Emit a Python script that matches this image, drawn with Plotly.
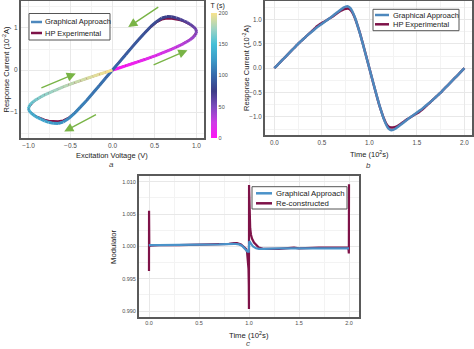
import plotly.graph_objects as go
from plotly.colors import sample_colorscale

W, H = 474, 349
def px(x):
    return x / W
def py(y):
    return 1 - y / H

# ---------------- data ----------------
# time in 10^2 s
time_h = [0.000, 0.025, 0.050, 0.075, 0.100, 0.125, 0.150, 0.175, 0.200, 0.225,
          0.250, 0.275, 0.300, 0.325, 0.350, 0.375, 0.400, 0.425, 0.450, 0.475,
          0.500, 0.525, 0.550, 0.575, 0.600, 0.625, 0.650, 0.675, 0.700, 0.725,
          0.750, 0.775, 0.800, 0.825, 0.850, 0.875, 0.900, 0.925, 0.950, 0.975,
          1.000, 1.025, 1.050, 1.075, 1.100, 1.125, 1.150, 1.175, 1.200, 1.225,
          1.250, 1.275, 1.300, 1.325, 1.350, 1.375, 1.400, 1.425, 1.450, 1.475,
          1.500, 1.525, 1.550, 1.575, 1.600, 1.625, 1.650, 1.675, 1.700, 1.725,
          1.750, 1.775, 1.800, 1.825, 1.850, 1.875, 1.900, 1.925, 1.950, 1.975,
          2.000]

voltage = [0.000, 0.079, 0.156, 0.233, 0.309, 0.383, 0.454, 0.523, 0.588, 0.649,
           0.707, 0.760, 0.809, 0.853, 0.891, 0.924, 0.951, 0.972, 0.988, 0.997,
           1.000, 0.997, 0.988, 0.972, 0.951, 0.924, 0.891, 0.853, 0.809, 0.760,
           0.707, 0.649, 0.588, 0.523, 0.454, 0.383, 0.309, 0.233, 0.156, 0.079,
           0.000, -0.079, -0.156, -0.233, -0.309, -0.383, -0.454, -0.523, -0.588, -0.649,
           -0.707, -0.760, -0.809, -0.853, -0.891, -0.924, -0.951, -0.972, -0.988, -0.997,
           -1.000, -0.997, -0.988, -0.972, -0.951, -0.924, -0.891, -0.853, -0.809, -0.760,
           -0.707, -0.649, -0.588, -0.523, -0.454, -0.383, -0.309, -0.233, -0.156, -0.079,
           0.000]

current_graphical = [0.000, 0.050, 0.100, 0.150, 0.200, 0.250, 0.300, 0.350, 0.400, 0.450,
                     0.500, 0.545, 0.590, 0.635, 0.680, 0.720, 0.760, 0.800, 0.840, 0.875,
                     0.910, 0.945, 0.980, 1.015, 1.050, 1.090, 1.130, 1.165, 1.205, 1.240,
                     1.265, 1.270, 1.235, 1.150, 1.030, 0.880, 0.720, 0.545, 0.365, 0.183,
                     0.000, -0.183, -0.365, -0.545, -0.720, -0.880, -1.030, -1.150, -1.235, -1.270,
                     -1.265, -1.240, -1.205, -1.165, -1.130, -1.090, -1.050, -1.015, -0.980, -0.945,
                     -0.910, -0.875, -0.840, -0.800, -0.760, -0.720, -0.680, -0.635, -0.590, -0.545,
                     -0.500, -0.450, -0.400, -0.350, -0.300, -0.250, -0.200, -0.150, -0.100, -0.050,
                     0.000]

current_hp = [0.000, 0.050, 0.100, 0.150, 0.200, 0.250, 0.300, 0.350, 0.400, 0.450,
              0.500, 0.545, 0.590, 0.635, 0.680, 0.725, 0.770, 0.815, 0.860, 0.895,
              0.925, 0.955, 0.985, 1.015, 1.045, 1.080, 1.115, 1.150, 1.180, 1.205,
              1.220, 1.225, 1.200, 1.130, 1.020, 0.880, 0.725, 0.550, 0.370, 0.185,
              0.000, -0.185, -0.370, -0.550, -0.725, -0.880, -1.020, -1.130, -1.195, -1.215,
              -1.215, -1.205, -1.180, -1.150, -1.115, -1.080, -1.045, -1.015, -0.985, -0.955,
              -0.925, -0.895, -0.860, -0.815, -0.770, -0.725, -0.680, -0.635, -0.590, -0.545,
              -0.500, -0.450, -0.400, -0.350, -0.300, -0.250, -0.200, -0.150, -0.100, -0.050,
              0.000]

# modulator panel
mod_time_graphical = [0.000, 0.010, 0.100, 0.300, 0.500, 0.700, 0.850, 0.900, 0.930, 0.950,
                      0.970, 0.985, 0.997, 1.003, 1.010, 1.020, 1.040, 1.070, 1.100, 1.150,
                      1.300, 1.500, 1.700, 1.900, 1.980, 2.000]
mod_graphical = [1.0001, 1.0002, 1.0002, 1.0002, 1.0003, 1.0003, 1.0004, 1.0003, 1.0001, 0.9998,
                 0.9995, 0.9992, 0.9992, 1.0008, 1.0007, 1.0004, 1.0000, 0.9997, 0.9996, 0.9996,
                 0.9997, 0.9997, 0.9997, 0.9998, 0.9998, 0.9997]

mod_time_recon = [0.000, 0.0005, 0.003, 0.010, 0.100, 0.300, 0.500, 0.700, 0.800, 0.850,
                  0.880, 0.920, 0.950, 0.970, 0.980, 0.990, 0.995, 0.998, 0.9995, 1.0005,
                  1.003, 1.006, 1.012, 1.020, 1.030, 1.050, 1.075, 1.100, 1.150, 1.300,
                  1.450, 1.500, 1.700, 1.900, 1.980, 1.995, 1.9985, 2.000]
mod_recon = [0.9962, 1.0055, 1.0000, 1.0001, 1.0002, 1.0002, 1.0003, 1.0003, 1.0004, 1.0005,
             1.0005, 1.0003, 0.9999, 0.9996, 0.9992, 0.9980, 0.9965, 0.9940, 0.9903, 1.0095,
             1.0060, 1.0042, 1.0028, 1.0018, 1.0012, 1.0006, 1.0002, 0.9998, 0.9996, 0.9996,
             0.9998, 0.9997, 0.9998, 0.9998, 0.9998, 0.9996, 0.9989, 1.0096]

# arrows in panel a: (tail V, tail I, head V, head I)
arrow_tail_v = [0.563, 0.472, -0.865, -0.179]
arrow_tail_i = [1.52, 0.11, -0.44, -1.04]
arrow_head_v = [0.187, 0.893, -0.437, -0.575]
arrow_head_i = [1.02, 0.47, -0.08, -1.46]

t_colorbar_ticks = [0, 50, 100, 150, 200]

# ---------------- style ----------------
BLUE = "#4d88bd"
BLUE_C = "#4a92c9"
MAROON = "#7e1248"
GREEN = "#79b446"
FONT = "Liberation Sans, Arial, sans-serif"
FRAME = "#5a5a5a"
GRID = "#e8e8e8"
MINOR = "#f3f3f3"
TICKC = "#4d4d4d"

cscale = [[0.0, "rgb(255,20,245)"], [0.125, "rgb(205,60,230)"], [0.25, "rgb(125,75,190)"],
          [0.375, "rgb(60,60,135)"], [0.5, "rgb(55,105,170)"], [0.625, "rgb(60,155,200)"],
          [0.75, "rgb(70,192,215)"], [0.875, "rgb(160,212,195)"], [1.0, "rgb(248,226,140)"]]

fig = go.Figure()

# ---- panel a ----
fig.add_trace(go.Scatter(x=voltage, y=current_hp, mode="lines",
                         line=dict(color=MAROON, width=2), showlegend=False,
                         xaxis="x", yaxis="y", name="HP Experimental"))
mids = [(time_h[i] + time_h[i + 1]) / 4.0 for i in range(len(time_h) - 1)]
seg_cols = sample_colorscale(cscale, mids)
for i in range(len(time_h) - 1):
    fig.add_trace(go.Scatter(x=voltage[i:i + 2], y=current_graphical[i:i + 2], mode="lines",
                             line=dict(color=seg_cols[i], width=3), showlegend=False,
                             hoverinfo="skip", xaxis="x", yaxis="y"))

cbar = dict(title=dict(text="T (s)", side="top", font=dict(size=7, color="#222", family=FONT)),
            x=px(210.5), xanchor="left", xpad=0, ypad=0,
            y=py(138), yanchor="bottom", lenmode="pixels", len=138,
            thickness=6, outlinewidth=0, tickvals=t_colorbar_ticks, ticks="",
            tickfont=dict(size=5.5, color=TICKC, family=FONT))
fig.add_trace(go.Scatter(x=[None], y=[None], mode="markers", showlegend=False,
                         xaxis="x", yaxis="y",
                         marker=dict(color=[0], cmin=0, cmax=200, colorscale=cscale,
                                     showscale=True, colorbar=cbar)))

# ---- panel b ----
fig.add_trace(go.Scatter(x=time_h, y=current_hp, mode="lines", line_shape="spline",
                         line=dict(color=MAROON, width=2.5), name="HP Experimental",
                         showlegend=False, xaxis="x2", yaxis="y2"))
fig.add_trace(go.Scatter(x=time_h, y=current_graphical, mode="lines", line_shape="spline",
                         line=dict(color=BLUE, width=2.5), name="Graphical Approach",
                         showlegend=False, xaxis="x2", yaxis="y2"))

# ---- panel c ----
fig.add_trace(go.Scatter(x=mod_time_recon, y=mod_recon, mode="lines",
                         line=dict(color=MAROON, width=2.2), name="Re-constructed",
                         showlegend=False, xaxis="x3", yaxis="y3"))
fig.add_trace(go.Scatter(x=mod_time_graphical, y=mod_graphical, mode="lines",
                         line=dict(color=BLUE_C, width=2.2), name="Graphical Approach",
                         showlegend=False, xaxis="x3", yaxis="y3"))

def ax(domain, rng, dtick, fmt, fsize, anchor, minor_dtick):
    return dict(domain=domain, range=rng, dtick=dtick, tickformat=fmt, anchor=anchor,
                showline=True, mirror=True, linecolor=FRAME, linewidth=2,
                showgrid=True, gridcolor=GRID, gridwidth=1, zeroline=False,
                ticks="", tickfont=dict(size=fsize, color=TICKC, family=FONT),
                minor=dict(dtick=minor_dtick, showgrid=True, gridcolor=MINOR, gridwidth=1))

fig.update_layout(
    width=W, height=H, margin=dict(l=0, r=0, t=0, b=0),
    paper_bgcolor="white", plot_bgcolor="white",
    font=dict(family=FONT),
    showlegend=False,
    xaxis=ax([px(21), px(204)], [-1.09, 1.09], 0.5, ".1f", 6.5, "y", 0.25),
    yaxis=ax([py(138.3), py(1)], [-1.62, 1.64], 1, "d", 6.5, "x", 0.5),
    xaxis2=ax([px(265), px(472)], [-0.098, 2.08], 0.5, ".1f", 6.3, "y2", 0.25),
    yaxis2=ax([py(135), py(1)], [-1.37, 1.38], 0.5, ".1f", 6.3, "x2", 0.25),
    xaxis3=ax([px(139), px(359)], [-0.1, 2.1], 0.5, ".1f", 5.5, "y3", 0.25),
    yaxis3=ax([py(316.7), py(175.7)], [0.98912, 1.01093], 0.005, ".3f", 5.5, "x3", 0.0025),
)

ann = []
for tv, ti, hv, hi in zip(arrow_tail_v, arrow_tail_i, arrow_head_v, arrow_head_i):
    ann.append(dict(x=hv, y=hi, ax=tv, ay=ti, xref="x", yref="y", axref="x", ayref="y",
                    text="", showarrow=True, arrowhead=2, arrowsize=1.3, arrowwidth=1.4,
                    arrowcolor=GREEN))

def txt(t, x, y, size=7.5, angle=0, color="#222"):
    return dict(text=t, x=px(x), y=py(y), xref="paper", yref="paper", showarrow=False,
                textangle=angle, xanchor="center", yanchor="middle",
                font=dict(size=size, color=color, family=FONT))

ann += [
    txt("Excitation Voltage (V)", 112, 155),
    txt("Response Current (10<sup>-2</sup>A)", 5.5, 70, angle=-90),
    txt("<i>a</i>", 111, 165, size=8, color="#444"),
    txt("Time (10<sup>2</sup>s)", 369, 154),
    txt("Response Current (10<sup>-2</sup>A)", 246, 68, angle=-90),
    txt("<i>b</i>", 368, 166, size=8, color="#444"),
    txt("Time (10<sup>2</sup>s)", 249, 335, size=7.7),
    txt("Modulator", 113, 247, size=7.7, angle=-90),
    txt("<i>c</i>", 248, 343.5, size=8, color="#444"),
]

# legend boxes (drawn as shapes + text)
shapes = []
def legend_box(x0, y0, x1, y1, entries, lx0, lx1, tx, size):
    shapes.append(dict(type="rect", xref="paper", yref="paper", x0=px(x0), x1=px(x1),
                       y0=py(y1), y1=py(y0), line=dict(color="#555", width=1),
                       fillcolor="white", layer="above"))
    for (label, color, yy) in entries:
        shapes.append(dict(type="line", xref="paper", yref="paper", x0=px(lx0), x1=px(lx1),
                           y0=py(yy), y1=py(yy), line=dict(color=color, width=2.5),
                           layer="above"))
        ann.append(dict(text=label, x=px(tx), y=py(yy), xref="paper", yref="paper",
                        showarrow=False, xanchor="left", yanchor="middle",
                        font=dict(size=size, color="#222", family=FONT)))

legend_box(29, 13.5, 110, 40, [("Graphical Approach", BLUE, 22), ("HP Experimental", MAROON, 33)],
           31, 42, 42.5, 7.5)
legend_box(373, 9.3, 459, 30.7, [("Graphical Approach", BLUE, 15), ("HP Experimental", MAROON, 24.3)],
           375, 389, 390.5, 7.5)
legend_box(252, 186.7, 347, 209, [("Graphical Approach", BLUE_C, 193.3), ("Re-constructed", MAROON, 203.3)],
           256, 272, 273.5, 7.8)

fig.update_layout(annotations=ann, shapes=shapes)
fig.write_html("out.html")
